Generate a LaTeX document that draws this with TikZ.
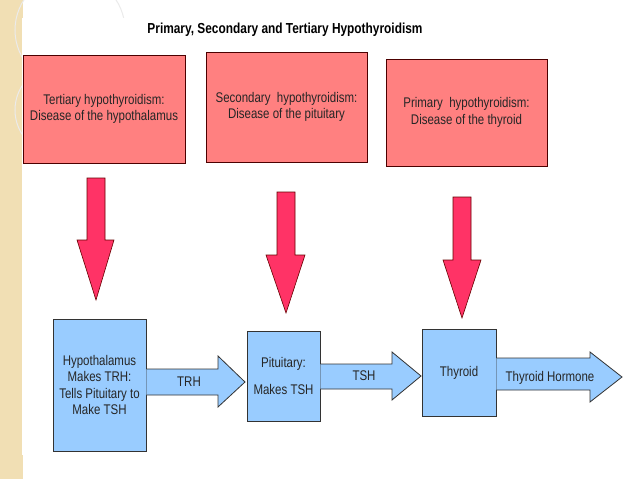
\documentclass[tikz,border=0pt]{standalone}
\usepackage{fontspec}
\setmainfont[FakeStretch=0.82]{Liberation Sans}
\begin{document}
\begin{tikzpicture}[x=1pt,y=-1pt,
  redbox/.style={draw=black!70!red,fill=redfill,line width=0.8pt},
  bluebox/.style={draw=black!80,fill=bluefill,line width=0.8pt},
  redarr/.style={draw=black!60!red,fill=arrred,line width=0.6pt},
  bluearr/.style={draw=black!80,fill=bluefill,line width=0.8pt},
  lbl/.style={font=\fontsize{14}{16.5}\selectfont,align=center,text=black!85,inner sep=1pt}]
\definecolor{redfill}{HTML}{FF8080}
\definecolor{bluefill}{HTML}{99CCFF}
\definecolor{arrred}{HTML}{FF3366}
\definecolor{beige}{HTML}{F1DFB4}
\useasboundingbox (0,0) rectangle (638,479);
\fill[white] (0,0) rectangle (638,479);
\fill[beige] (0,0) rectangle (23,479);
\draw[black!8,line width=1pt] (70,30) circle (55);
\draw[black!8,line width=1pt] (60,110) circle (45);
\fill[white] (22,18) rectangle (638,455);
\node[font=\bfseries\fontsize{14.5}{16}\selectfont] (title) at (285,30) {Primary, Secondary and Tertiary Hypothyroidism};
% red boxes
\node[redbox,minimum width=162,minimum height=108,lbl] (ter) at (104,109) {Tertiary hypothyroidism:\\Disease of the hypothalamus};
\node[redbox,minimum width=161,minimum height=110,lbl] (sec) at (286.5,107) {Secondary\ \ hypothyroidism:\\Disease of the pituitary};
\node[redbox,minimum width=161,minimum height=107,lbl] (pri) at (466.5,112.5) {Primary\ \ hypothyroidism:\\Disease of the thyroid};
% red arrows
\draw[redarr] (87,178) -- (105,178) -- (105,240) -- (114,240) -- (96,300) -- (77,240) -- (87,240) -- cycle;
\draw[redarr] (277,192) -- (295,192) -- (295,255) -- (305,255) -- (286,313) -- (266,255) -- (277,255) -- cycle;
\draw[redarr] (453,197) -- (471,197) -- (471,260) -- (481,260) -- (462,318) -- (443,260) -- (453,260) -- cycle;
% blue boxes
\node[bluebox,minimum width=93,minimum height=132,lbl] (hyp) at (99.5,385) {Hypothalamus\\Makes TRH:\\Tells Pituitary to\\Make TSH};
\node[bluebox,minimum width=73,minimum height=90,lbl] (pit) at (283.5,376) {Pituitary:\\[10pt]Makes TSH};
\node[bluebox,minimum width=74,minimum height=87,lbl] (thy) at (459,372.5) {Thyroid};
% blue arrows
\draw[bluearr] (hyp.east |- 0,369) -- (218,369) -- (218,356) -- (245,382) -- (218,407) -- (218,395) -- (hyp.east |- 0,395);
\draw[bluearr] (pit.east |- 0,364) -- (392,364) -- (392,352) -- (421,376) -- (392,400) -- (392,389) -- (pit.east |- 0,389);
\draw[bluearr] (thy.east |- 0,358) -- (590,358) -- (590,352) -- (622,377) -- (590,402) -- (590,390) -- (thy.east |- 0,390);
\node[lbl] (trh) at (189,382) {TRH};
\node[lbl] (tsh) at (364,376) {TSH};
\node[lbl] (th) at (550,378) {Thyroid Hormone};
\end{tikzpicture}
\end{document}
